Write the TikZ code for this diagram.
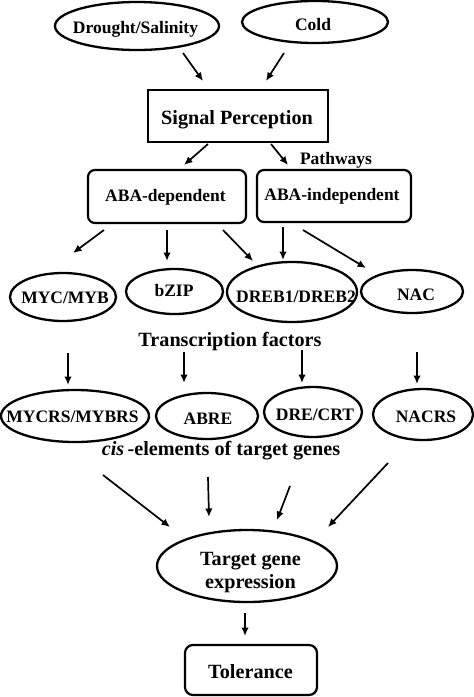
\documentclass[tikz,border=0pt]{standalone}
\usepackage{fontspec}
\setmainfont{Liberation Serif}
\usetikzlibrary{shapes.geometric,arrows.meta}
\tikzset{
  ell/.style={ellipse, draw, line width=2.3pt, inner sep=0pt},
  sqbox/.style={rectangle, draw, line width=2.2pt, inner sep=0pt},
  rbox/.style={rectangle, draw, line width=2.2pt, inner sep=0pt, rounded corners=7pt},
  lbl/.style={anchor=base, inner sep=0pt, font=\fontsize{17.5}{20}\selectfont\bfseries},
  big/.style={anchor=base, inner sep=0pt, font=\fontsize{20.2}{23}\selectfont\bfseries},
  arr/.style={line width=1.7pt, -{Latex[length=8.5pt,width=7.5pt]}}
}
\begin{document}
\begin{tikzpicture}[x=1pt,y=-1pt]
\useasboundingbox (0,0) rectangle (474,697);
% top
\node[ell, minimum width=164pt, minimum height=48pt] (drought) at (137,26) {};
\node[lbl] (droughtT) at (135.5,33) {Drought/Salinity};
\node[ell, minimum width=146pt, minimum height=42pt] (cold) at (315,22) {};
\node[lbl] (coldT) at (313,30) {Cold};
\node[sqbox, minimum width=180pt, minimum height=52pt] (signal) at (238,116) {};
\node[big] (signalT) at (237,124) {Signal Perception};
\node[lbl] (pathT) at (336,164) {Pathways};
\node[rbox, minimum width=158pt, minimum height=53pt] (abad) at (167,196.5) {};
\node[lbl] (abadT) at (165.5,201) {ABA-dependent};
\node[rbox, minimum width=154pt, minimum height=52pt] (abai) at (334,196) {};
\node[lbl] (abaiT) at (332,200) {ABA-independent};
% transcription factors
\node[ell, minimum width=106pt, minimum height=48pt] (myc) at (63,297) {};
\node[lbl] (mycT) at (65,303) {MYC/MYB};
\node[ell, minimum width=97pt, minimum height=45pt] (bzip) at (174.5,291.5) {};
\node[lbl] (bzipT) at (174,296) {bZIP};
\node[ell, minimum width=130pt, minimum height=60pt] (dreb) at (292,292) {};
\node[lbl] (drebT) at (296,302) {DREB1/DREB2};
\node[ell, minimum width=102pt, minimum height=43pt] (nac) at (412,291.5) {};
\node[lbl] (nacT) at (416,300) {NAC};
\node[big] (tfT) at (230,346) {Transcription factors};
% cis elements
\node[ell, minimum width=148pt, minimum height=52pt] (mycrs) at (75,416) {};
\node[lbl] (mycrsT) at (72.5,422) {MYCRS/MYBRS};
\node[ell, minimum width=102pt, minimum height=46pt] (abre) at (207,416) {};
\node[lbl] (abreT) at (208,424) {ABRE};
\node[ell, minimum width=98pt, minimum height=50pt] (dre) at (313,412) {};
\node[lbl] (dreT) at (315,420) {DRE/CRT};
\node[ell, minimum width=100pt, minimum height=51pt] (nacrs) at (423,414.5) {};
\node[lbl] (nacrsT) at (426,422) {NACRS};
\node[big] (cisT) at (221,455) {\textit{cis}\,-elements of target genes};
% bottom
\node[ell, minimum width=180pt, minimum height=72pt] (target) at (247,566) {};
\node[big] (targetT1) at (250.5,565) {Target gene};
\node[big] (targetT2) at (250.5,588) {expression};
\node[rbox, minimum width=132pt, minimum height=50pt, rounded corners=8pt] (tol) at (251,670) {};
\node[big] (tolT) at (250.5,678) {Tolerance};
% arrows
\coordinate (a1s) at (183,53);  \coordinate (a1e) at (203,81);
\coordinate (a2s) at (284,53);  \coordinate (a2e) at (266,81);
\coordinate (a3s) at (208,144); \coordinate (a3e) at (184,165);
\coordinate (a4s) at (271,144); \coordinate (a4e) at (288,165);
\coordinate (b1s) at (104,230); \coordinate (b1e) at (73,253);
\coordinate (b2s) at (167,230); \coordinate (b2e) at (167,261);
\coordinate (b3s) at (223,230); \coordinate (b3e) at (253,261);
\coordinate (b4s) at (283,227); \coordinate (b4e) at (283,260);
\coordinate (b5s) at (303,230); \coordinate (b5e) at (366,268);
\coordinate (c1s) at (68,353);  \coordinate (c1e) at (68,385);
\coordinate (c2s) at (184,352); \coordinate (c2e) at (184,383);
\coordinate (c3s) at (302,350); \coordinate (c3e) at (302,383);
\coordinate (c4s) at (417,352); \coordinate (c4e) at (417,384);
\coordinate (d1s) at (103,475); \coordinate (d1e) at (170,527);
\coordinate (d2s) at (208,477); \coordinate (d2e) at (209,517);
\coordinate (d3s) at (290,486); \coordinate (d3e) at (277,520);
\coordinate (d4s) at (388,463); \coordinate (d4e) at (328,527);
\coordinate (es) at (245,613);  \coordinate (ee) at (245,636);
\foreach \a in {a1,a2,a3,a4,b1,b2,b3,b4,b5,c1,c2,c3,c4,d1,d2,d3,d4}
  \draw[arr] (\a s) -- (\a e);
\draw[arr] (es) -- (ee);
\end{tikzpicture}
\end{document}
